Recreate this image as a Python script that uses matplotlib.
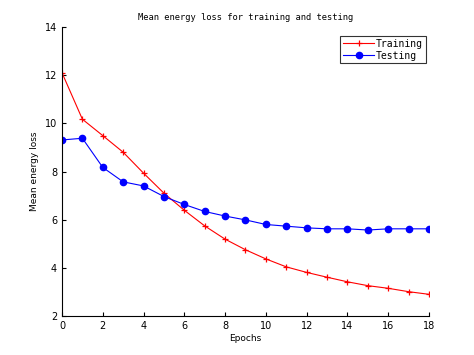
import matplotlib
matplotlib.use('Agg')
import matplotlib.pyplot as plt

epochs = list(range(19))
training = [12.1, 10.17, 9.49, 8.8, 7.93, 7.1, 6.39, 5.74, 5.19, 4.75, 4.37,
            4.04, 3.81, 3.61, 3.42, 3.26, 3.15, 3.01, 2.90]
testing = [9.31, 9.38, 8.17, 7.57, 7.40, 6.96, 6.63, 6.34, 6.15, 5.99, 5.80,
           5.73, 5.66, 5.62, 5.62, 5.57, 5.62, 5.62, 5.62]

fig = plt.figure(figsize=(4.74, 3.55), dpi=100)
ax = fig.add_axes([62 / 474, 1 - 316 / 355, (429 - 62) / 474, (316 - 27) / 355])

ax.plot(epochs, training, '-+', color='red', lw=0.8, ms=5, mew=0.9, label='Training')
ax.plot(epochs, testing, '-o', color='blue', lw=0.8, ms=4.5, label='Testing')

ax.set_xlim(0, 18)
ax.set_ylim(2, 14)
ax.set_xticks(range(0, 19, 2))
ax.set_yticks(range(2, 15, 2))
ax.tick_params(direction='in', labelsize=7, length=3, width=0.8)
for s in ['top', 'right']:
    ax.spines[s].set_visible(False)
for s in ['left', 'bottom']:
    ax.spines[s].set_linewidth(0.8)

ax.set_title('Mean energy loss for training and testing', fontsize=6.3,
             family='DejaVu Sans Mono', pad=5)
ax.set_xlabel('Epochs', fontsize=6.5, labelpad=2)
ax.set_ylabel('Mean energy loss', fontsize=6.5, labelpad=4)

leg = ax.legend(loc='upper right', bbox_to_anchor=(1.0, 0.98), fancybox=False,
                prop={'family': 'DejaVu Sans Mono', 'size': 7}, handlelength=3.2,
                borderpad=0.3, labelspacing=0.2, handletextpad=0.2, borderaxespad=0.3)
leg.get_frame().set_edgecolor('black')
leg.get_frame().set_linewidth(0.8)

fig.savefig('out.png', dpi=100)
